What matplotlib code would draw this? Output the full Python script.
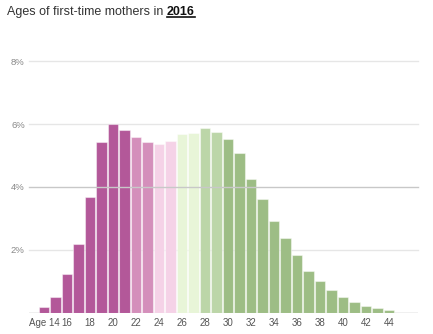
import matplotlib.pyplot as plt
from matplotlib.lines import Line2D

plt.rcParams['font.family'] = ['Liberation Sans', 'DejaVu Sans']

# share of first births by mother's age, 2016 (percent)
ages = list(range(14, 45))
share = [0.18, 0.50, 1.22, 2.19, 3.68, 5.43, 6.00, 5.82, 5.60, 5.43,
         5.37, 5.47, 5.68, 5.73, 5.87, 5.74, 5.53, 5.08, 4.27, 3.61,
         2.92, 2.38, 1.83, 1.34, 1.00, 0.72, 0.50, 0.34, 0.21, 0.14, 0.085]

tick_ages = list(range(14, 45, 2))
tick_labels = ["Age 14"] + [str(a) for a in tick_ages[1:]]
y_ticks = [2, 4, 6, 8]
y_labels = ["2%", "4%", "6%", "8%"]

# colour bands by age
def bar_color(age):
    if age <= 21:
        return "#b35899"
    if age <= 23:
        return "#d48fbb"
    if age <= 25:
        return "#f5d2e7"
    if age <= 27:
        return "#e8f5d8"
    if age <= 29:
        return "#bcd6a8"
    return "#9dbd85"

colors = [bar_color(a) for a in ages]

fig = plt.figure(figsize=(4.33, 3.34), dpi=100)
ax = fig.add_axes([29 / 433, (334 - 312.7) / 334, (418 - 29) / 433, (312.7 - 61.3) / 334])

ax.bar(ages, share, width=0.9, color=colors, edgecolor=(1, 1, 1, 0.45),
       linewidth=0.8, zorder=2)

ax.set_xlim(12.7, 46.52)
ax.set_ylim(0, 8)

for y in y_ticks:
    c = "#c8c8c8" if y == 4 else "#e6e6e6"
    ax.axhline(y, color=c, linewidth=1, zorder=1 if y != 4 else 3, clip_on=False)
ax.axhline(0, color="#eeeeee", linewidth=1.2, zorder=1)

ax.set_yticks(y_ticks)
ax.set_yticklabels(y_labels)
ax.set_xticks(tick_ages)
ax.set_xticklabels(tick_labels)
ax.tick_params(axis="y", length=0, pad=3, labelsize=6.8, labelcolor="#888888")
ax.tick_params(axis="x", length=0, pad=4, labelsize=7, labelcolor="#555555")
for s in ax.spines.values():
    s.set_visible(False)

t1 = fig.text(7 / 433, (334 - 15) / 334, "Ages of first-time mothers in ",
              fontsize=9, color="#333333", va="baseline", ha="left")
fig.canvas.draw()
r = fig.canvas.get_renderer()
bb = t1.get_window_extent(r)
t2 = fig.text(bb.x1 / 433, (334 - 15) / 334, "2016", fontsize=9,
              fontweight="bold", color="#111111", va="baseline", ha="left")
bb2 = t2.get_window_extent(r)
uy = (334 - 16.8) / 334
fig.add_artist(Line2D([bb2.x0 / 433, bb2.x1 / 433], [uy, uy],
                      transform=fig.transFigure, color="#111111", linewidth=1.2))

fig.savefig("out.png", dpi=100)
